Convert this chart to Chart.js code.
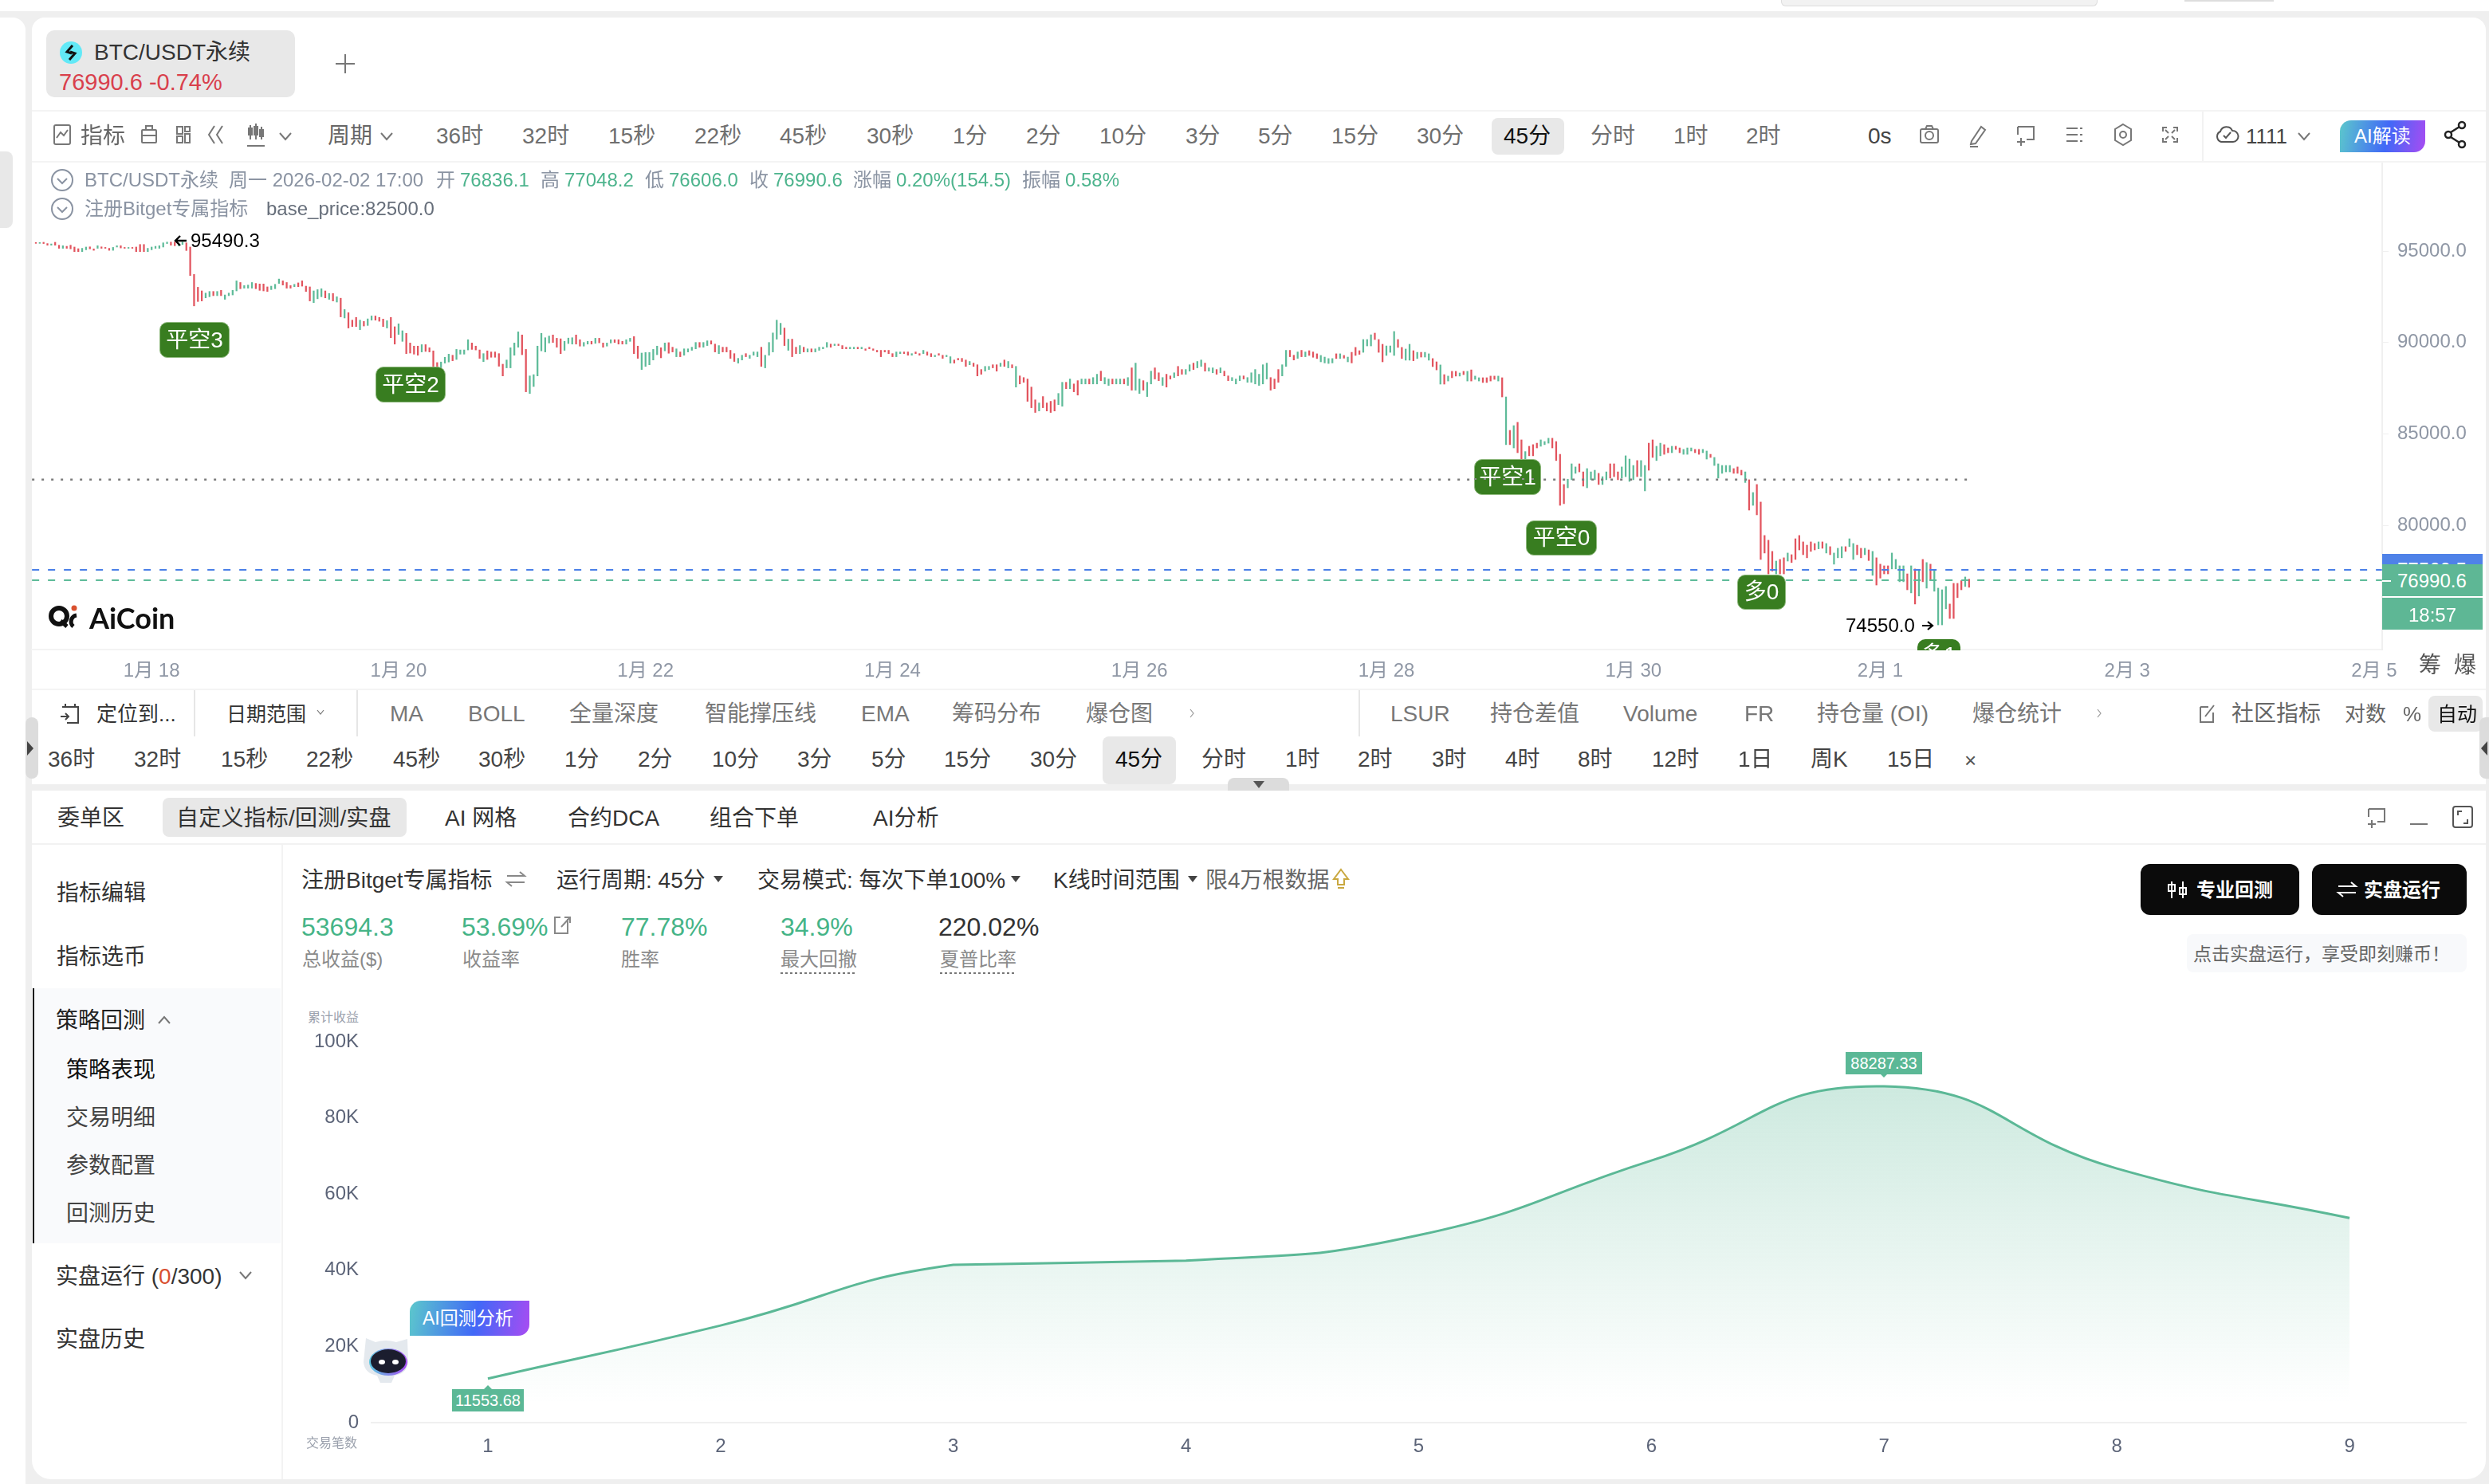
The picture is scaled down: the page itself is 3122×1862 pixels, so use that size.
<!DOCTYPE html>
<html lang="zh"><head><meta charset="utf-8"><title>BTC/USDT</title>
<script src="https://cdn.jsdelivr.net/npm/chart.js@4/dist/chart.umd.js"></script>
<style>
html,body{margin:0;padding:0;background:#efefef;width:3122px;height:1862px;overflow:hidden;font-family:"Liberation Sans","Noto Sans CJK SC",sans-serif}
.b{position:absolute;box-sizing:border-box}
.t{position:absolute;white-space:nowrap;line-height:1;transform:translateY(-50%);z-index:5}
canvas{position:absolute;z-index:2;display:block}
svg{position:absolute;z-index:5;overflow:visible}
</style></head><body>
<canvas id="kline" width="3122" height="662" style="left:0;top:204px;width:3122px;height:662px"></canvas>
<canvas id="equity" width="2764" height="566" style="left:354px;top:1290px;width:2764px;height:566px"></canvas>
<script>
// ---- K-line values ----
const candleHigh=[
95470,95470,95480,95410,95390,95480,95320,95290,95260,95320,
95220,95130,95150,95220,95230,95120,95290,95230,95200,95150,
95200,95290,95290,95200,95200,95200,95220,95360,95360,95150,
95220,95260,95290,95450,95490,95490,95490.3,95450,95490,95450,
95220,93720,93020,92820,92700,92790,92790,92790,92850,92600,
92700,92850,93370,93280,93110,93140,93280,93230,93200,93200,
93040,93080,93180,93470,93370,93280,93110,93180,93260,93370,
93080,93040,92820,92890,92940,92820,92680,92680,92500,92420,
91800,91630,91220,91370,91220,91150,91290,91450,91450,91370,
91280,91190,91370,90860,91020,90640,90500,89970,89800,89800,
89880,89880,89710,89540,88900,88930,89190,89360,89300,89620,
89590,89590,90150,89970,89800,89590,89390,89540,89480,89480,
89390,88810,89040,89710,89970,90580,90410,89620,88170,88240,
89800,90500,90260,90350,90410,90230,90200,90060,90240,90260,
90410,90150,90000,90060,90060,90230,90230,89970,89970,90150,
90150,90150,90060,90150,90230,90320,89800,89420,89450,89450,
89620,89800,89710,89970,
89990,89740,89650,89480,89650,89650,89740,90000,90000,90000,
90090,90090,89910,89830,89740,89740,89570,89390,89130,89300,
89390,89300,89480,89480,89740,89300,90000,90520,91220,91050,
90790,90180,90180,89740,89830,89740,89650,89650,89650,89740,
89740,90000,89910,89910,89910,89830,89740,89740,89740,89740,
89740,89650,89740,89650,89570,89570,89570,89570,89390,89480,
89480,89480,89480,89390,89480,89390,89570,89480,89390,89300,
89390,89300,89300,89220,89040,89130,89130,89040,88960,88870,
88780,88520,88690,88690,88780,88780,88870,89040,88960,88780,
88690,88170,88080,88000,87560,86860,86690,87040,86690,86780,
86860,87210,87820,87820,88000,87730,87910,88000,88000,88000,
88080,88260,88430,88080,88000,88000,88000,88000,88000,88080,
88610,88870,88000,87910,87820,88430,88610,88340,88080,88260,
88170,88340,88690,88520,88520,88780,88870,88960,89040,88870,
88610,88610,88520,88610,88430,88170,88080,88000,88170,88170,
88080,88340,88520,88260,88780,88870,88080,88000,88520,88780,
89570,89570,89300,89480,89570,89480,
89550,89480,89380,89290,89200,89120,89120,89380,89380,89290,
89200,89460,89730,89550,90160,90160,90420,90510,90160,89900,
89810,89810,90600,90160,89730,89640,89900,89550,89460,89460,
89460,89380,89120,88940,88770,88240,88160,88420,88420,88330,
88420,88420,88500,88160,88070,88070,88070,88160,88160,88160,
88070,87020,85190,85450,85630,84670,84030,84320,84410,84490,
84670,84580,84760,84760,84580,83880,82230,82520,83360,83190,
83360,82920,83100,82920,83010,82840,82660,82920,83360,83360,
82920,83190,83800,83620,83270,83540,83540,83270,84490,84670,
84320,84490,84410,84230,84320,84320,84230,84150,84230,84230,
84150,84150,84150,84060,83880,83710,83360,83270,83270,83270,
83100,83190,83010,82920,82490,81790,82230,81270,79440,79180,
78570,78040,78130,78220,78480,78390,79260,79440,79090,78910,
79090,79000,79090,79090,79000,78830,78480,78740,78830,78830,
79260,79000,78910,78740,78740,78650,78570,78220,77870,77780,
77780,78480,78130,77780,77780,77340,77780,77610,77520,78130,
77960,77870,77520,76560,76470,76650,75690,76820,76820,76970,
77170,77048.2];
const candleLow=[
95420,95420,95410,95320,95320,95320,95150,95150,95150,95120,
94970,94970,94970,95070,95120,95040,95150,95150,95150,95040,
95040,95220,95170,95150,95150,95150,94970,94970,94970,94970,
95070,95150,95150,95220,95410,95320,95290,95290,95360,95030,
93660,92000,92240,92270,92440,92500,92560,92560,92560,92360,
92560,92600,92820,92940,92970,92970,92970,92940,92850,92820,
92790,92890,92940,93230,93140,92970,92970,93050,93050,93080,
92790,92270,92180,92390,92500,92440,92360,92270,92210,91400,
91340,90790,90870,90870,90700,90900,90930,91220,91220,91160,
90870,90790,90260,89910,90440,90060,89390,89420,89360,89300,
89480,89510,89480,88610,88610,88610,88870,88930,89000,89070,
89360,89360,89590,89620,89590,89130,88950,89070,89190,89190,
88700,88170,88610,88610,89300,89740,89330,87300,87210,87590,
88170,89540,89480,89970,90000,89740,89390,89570,89940,89910,
89910,89800,89800,89910,89910,89950,89980,89740,89800,89970,
90000,89910,89910,89910,90060,89390,89130,88520,88690,88780,
89040,89330,89160,89540,
89410,89480,89220,89220,89300,89480,89570,89650,89740,89740,
89830,89910,89480,89390,89480,89480,89130,88960,88870,89040,
89220,89130,89300,89220,88690,88610,89300,89480,90180,90440,
89830,89570,89220,89390,89390,89480,89480,89480,89480,89570,
89650,89740,89740,89830,89830,89650,89650,89650,89650,89650,
89650,89570,89650,89570,89480,89220,89480,89390,89220,89220,
89390,89390,89300,89300,89390,89300,89390,89300,89220,89220,
89300,89130,89220,88870,88870,89040,88960,88690,88780,88690,
88170,88260,88430,88520,88610,88430,88690,88690,88610,88610,
87560,87730,87820,86780,86430,86170,86250,86430,86250,86170,
86250,86600,86510,87470,87470,87300,87120,87730,87730,87730,
87730,87730,87910,87730,87650,87730,87730,87730,87730,87650,
87390,87390,87210,87390,87040,87730,88000,87910,87650,87560,
88000,88080,88170,88260,88260,88430,88520,88610,88690,88430,
88430,88340,88260,88340,88170,87910,87910,87730,87910,88000,
87820,87820,87730,87650,87730,88000,87390,87470,87820,88170,
88690,89220,89040,89130,89220,89220,
89290,89190,89120,88940,88880,88850,88880,89120,89120,89140,
88940,88880,89290,89350,89460,89810,89810,90160,89460,88940,
89290,89460,89290,89730,89120,89030,89030,89000,89120,89200,
89200,89030,88680,88500,87720,87720,87890,88070,88160,88160,
88240,87890,87890,87980,87890,87810,87810,87890,87980,87890,
87020,84410,84410,84230,83970,83590,83590,83800,83800,84230,
84320,84410,84490,84230,83540,81090,81180,82050,82490,82840,
82920,82140,82050,82490,82490,82230,82230,82490,82580,82660,
82490,82580,82660,82400,82490,82660,82660,81880,83010,83710,
83540,83800,83880,83970,83970,84150,83970,83880,83880,84060,
83970,83880,83970,83620,83710,83270,82580,82840,82920,82920,
82840,82840,82750,82340,80830,81090,80570,78130,78480,77340,
77490,77340,77340,77340,78040,77960,78130,78650,78390,78220,
78570,78650,78710,78740,78480,78390,77870,78220,78220,78570,
78830,78130,78390,78220,78390,78070,77260,76730,77110,77340,
77340,77610,77610,76910,76910,76470,76300,75690,76130,76910,
76560,77000,76390,74550,74550,75430,74900,74900,76040,76470,
76650,76606];
const candleUp=[
0,1,0,0,1,0,0,1,0,0, 0,0,1,1,0,0,1,0,0,0, 1,1,0,0,1,0,0,0,0,1, 1,1,1,1,1,0,0,1,1,0,
0,0,0,0,1,1,0,1,0,1, 1,1,1,0,1,1,1,0,0,0, 0,1,1,1,0,0,0,1,0,0, 0,0,1,1,1,0,1,0,1,0,
1,0,0,0,1,0,1,1,0,0, 0,1,0,0,1,1,0,0,0,0, 1,0,0,0,0,1,1,1,0,1, 1,1,1,0,0,0,1,0,0,0,
0,0,1,1,1,1,0,0,1,1, 1,1,1,1,0,0,0,1,1,1, 0,0,1,1,0,1,0,0,1,1, 0,0,0,1,1,0,0,1,1,1,
1,1,0,1,
0,0,1,0,1,1,1,1,0,1, 1,0,0,1,0,0,0,0,1,1, 0,1,1,1,0,1,1,1,1,1, 0,1,0,0,1,0,1,0,1,1,
1,1,0,1,0,0,0,1,1,0, 1,0,0,0,0,0,0,0,0,1, 1,0,0,1,0,0,1,0,0,1, 0,0,1,1,0,0,0,0,1,0,
0,0,1,1,0,0,1,0,1,0, 1,0,0,0,0,0,1,0,0,0, 0,1,1,0,1,0,0,1,1,0, 1,1,0,1,1,0,1,1,0,1,
0,1,1,0,1,1,0,0,1,0, 0,1,0,0,1,1,0,1,1,0, 1,1,0,1,0,0,1,1,1,0, 1,1,1,1,1,1,0,0,0,1,
1,0,0,1,0,1,0,0,0,1, 1,1,1,0,1,0,1,0,0,0,
1,1,1,0,0,0,1,1,1,0, 0,1,1,0,1,0,1,1,0,0, 1,0,1,0,0,1,0,1,0,1, 1,0,0,0,0,1,0,1,0,1,
0,0,1,0,0,0,1,1,1,0, 0,0,0,1,1,1,0,0,1,1, 1,0,1,1,0,0,0,1,1,1, 1,0,1,1,0,0,1,1,0,0,
1,0,0,1,1,1,0,0,1,1, 0,1,1,1,1,1,0,0,0,1, 0,1,0,0,0,0,0,1,0,0, 1,0,0,0,0,0,0,0,1,0,
1,0,1,1,1,0,1,1,0,0, 1,0,1,0,0,0,0,1,1,1, 1,0,1,0,1,0,1,0,1,1, 1,1,0,0,0,0,1,0,1,1,
0,0,0,0,1,0,0,1,0,1, 1,1];
const basePriceLine=82500, bluePriceLine=77560.5, lastPrice=76990.6;
const yTickValues=[95000,90000,85000,80000];
const dateTickIndex=[30,94,158,222,286,350,414,478,542,606];
const dateTickLabels=['1月 18','1月 20','1月 22','1月 24','1月 26','1月 28','1月 30','2月 1','2月 3','2月 5'];
// ---- Equity curve ----
const tradeCounts=['1','2','3','4','5','6','7','8','9'];
const equityValues=[11553.68,25500,41400,42500,49200,68800,88287.33,66700,53694.3];

const FONT='"Liberation Sans","Noto Sans CJK SC",sans-serif';
Chart.defaults.font.family=FONT;
Chart.defaults.animation=false;
const n=candleHigh.length;
const GREEN='#5ebb99', RED='#e2545e';
const ohlc=candleHigh.map((h,i)=>({x:i,y:[candleLow[i],h]}));
const noPad=s=>{s.paddingTop=0;s.paddingBottom=0;};

new Chart(document.getElementById('kline'),{
 type:'bar',
 data:{datasets:[
  {type:'line',data:[{x:-1,y:basePriceLine},{x:n-0.4,y:basePriceLine}],borderColor:'#7c7c7c',borderWidth:2.5,borderDash:[3,9],pointRadius:0,order:1},
  {type:'line',data:[{x:-1,y:bluePriceLine},{x:608,y:bluePriceLine}],borderColor:'#4a80e8',borderWidth:2,borderDash:[9,11],pointRadius:0,order:1},
  {type:'line',data:[{x:-1,y:lastPrice},{x:608,y:lastPrice}],borderColor:GREEN,borderWidth:2,borderDash:[9,11],pointRadius:0,order:1},
  {type:'bar',data:ohlc,barThickness:1.6,backgroundColor:candleUp.map(u=>u?GREEN:RED),borderWidth:0,order:2,grouped:false}
 ]},
 options:{responsive:false,devicePixelRatio:1,animation:false,
  layout:{padding:{left:40,right:0,top:0,bottom:0}},
  plugins:{legend:{display:false},tooltip:{enabled:false}},
  scales:{
   x:{type:'linear',offset:false,min:-1.03,max:608.06,
    grid:{display:false,offset:false,drawTicks:false},border:{display:true,color:'#f3f3f3',width:2},
    afterBuildTicks:s=>{s.ticks=dateTickIndex.map(value=>({value}))},
    afterFit:s=>{s.height=51;s.paddingLeft=0;s.paddingRight=0;},
    ticks:{autoSkip:false,maxRotation:0,minRotation:0,padding:13,color:'#8f97a5',font:{size:24},callback:(v,i)=>dateTickLabels[i]}},
   y:{type:'linear',position:'right',beginAtZero:false,min:73200,max:99840,
    grid:{drawOnChartArea:false,drawTicks:true,tickLength:8,tickColor:'#f0f0f0'},border:{display:true,color:'#f0f0f0',width:2},
    afterBuildTicks:s=>{s.ticks=yTickValues.map(value=>({value}))},
    afterFit:s=>{s.width=134;noPad(s);},
    ticks:{padding:11,color:'#8f97a5',font:{size:24},callback:v=>v.toFixed(1)}}
  }}
});

// keeps the plateau between trades 3 and 4 flat instead of overshooting
const flatShoulder={id:'flatShoulder',beforeDatasetsDraw(chart){
 const pts=chart.getDatasetMeta(0).data,a=pts[2],b=pts[3],dx=b.x-a.x,dy=b.y-a.y;
 a.cp2x=a.x+dx/3;a.cp2y=a.y+dy/3;b.cp1x=b.x-dx/3;b.cp1y=b.y-dy/3;
}};
new Chart(document.getElementById('equity'),{
 type:'line',
 plugins:[flatShoulder],
 data:{labels:tradeCounts,datasets:[{data:equityValues,borderColor:'#5bb896',borderWidth:3,pointRadius:0,tension:0.5,fill:'origin',
  backgroundColor:c=>{const ch=c.chart,a=ch.chartArea;if(!a)return 'transparent';
   const g=ch.ctx.createLinearGradient(0,ch.scales.y.getPixelForValue(88287),0,a.bottom-24);
   g.addColorStop(0,'rgba(91,184,150,.3)');g.addColorStop(1,'rgba(91,184,150,0)');return g;}}]},
 options:{responsive:false,devicePixelRatio:1,animation:false,
  layout:{padding:{left:0,right:25,top:17,bottom:0}},
  plugins:{legend:{display:false},tooltip:{enabled:false}},
  scales:{
   x:{type:'category',offset:true,grid:{display:false,drawTicks:false},border:{display:true,color:'#f0f0f0',width:2},
    afterFit:s=>{s.height=71;s.paddingLeft=0;s.paddingRight=0;},ticks:{padding:16,color:'#5c6478',font:{size:24},maxRotation:0}},
   y:{min:0,max:100000,grid:{display:false,drawTicks:false},border:{display:false},
    afterFit:s=>{s.width=112;noPad(s);},
    ticks:{stepSize:20000,padding:16,color:'#5c6478',font:{size:24},callback:v=>v===0?'0':(v/1000)+'K'}}
  }}
});

// ---- page chrome ----
const B=(x,y,w,h,bg,css='',z=1)=>{const d=document.createElement('div');d.className='b';d.style.cssText=`left:${x}px;top:${y}px;width:${w}px;height:${h}px;background:${bg};z-index:${z};${css}`;document.body.appendChild(d);return d;};
const T=(s,x,y,size,color,css='')=>{const d=document.createElement('div');d.className='t';d.textContent=s;d.style.cssText=`left:${x}px;top:${y}px;font-size:${size}px;color:${color};${css}`;document.body.appendChild(d);return d;};
const S=(x,y,w,h,inner,z=5)=>{const e=document.createElementNS('http://www.w3.org/2000/svg','svg');e.setAttribute('width',w);e.setAttribute('height',h);e.setAttribute('viewBox',`0 0 ${w} ${h}`);e.style.left=x+'px';e.style.top=y+'px';e.style.zIndex=z;e.innerHTML=inner;document.body.appendChild(e);};
const chev=(x,y,up=false,c='#777')=>S(x-8,y-6,16,12,`<polyline points="${up?'1,10 8,2 15,10':'1,2 8,10 15,2'}" fill="none" stroke="${c}" stroke-width="2"/>`);
const tri=(x,y)=>S(x-7,y-5,14,10,'<polygon points="1,1 13,1 7,9" fill="#444"/>');
const ic=(cx,cy,inner,c='#777',sw=2)=>S(cx-16,cy-16,32,32,`<g fill="none" stroke="${c}" stroke-width="${sw}">${inner}</g>`);

// panels
B(0,0,3122,14,'#fff');B(2234,0,397,8,'#f2f2f2','border:1px solid #ddd;border-top:0;border-radius:0 0 6px 6px');B(2740,0,112,2,'#ddd');
B(0,22,32,1840,'#fff','border-radius:0 16px 0 0');B(0,190,16,96,'#e8e8e8','border-radius:0 8px 8px 0',3);
B(40,22,3078,962,'#fff','border-radius:16px 16px 0 0');
B(40,992,3078,864,'#fff','border-radius:0 0 24px 24px');
B(40,138,3078,2,'#f4f4f4');B(40,202,3078,2,'#f4f4f4');
B(2762,140,2,62,'#f2f2f2');
B(40,864,3078,2,'#f4f4f4');
B(40,1058,3078,2,'#f2f2f2');
B(353,1060,2,796,'#f3f3f3');

// top tab
B(58,38,312,84,'#e8e8e8','border-radius:10px');
S(74,51,30,30,'<circle cx="15" cy="15" r="14" fill="#62e9f7"/><path d="M17 6 L10 14 L16 16 M13 24 L20 16 L14 14" fill="none" stroke="#111" stroke-width="3"/>');
T('BTC/USDT永续',118,66,28,'#333');
T('76990.6 -0.74%',74,103,29,'#d9404c');
S(421,68,24,24,'<path d="M12 0V24M0 12H24" stroke="#777" stroke-width="2"/>');

// toolbar row 1
ic(78,169,'<rect x="6" y="4" width="20" height="24" rx="2"/><polyline points="9,20 14,13 18,17 23,10"/>');
T('指标',101,171,28,'#666');
ic(187,169,'<rect x="7" y="10" width="18" height="16" rx="1"/><path d="M12 10V5H20V10M7 17H25"/>');
ic(230,169,'<rect x="8" y="6" width="7" height="9"/><rect x="18" y="6" width="6" height="6"/><rect x="18" y="15" width="6" height="11"/><rect x="8" y="18" width="7" height="8"/>');
ic(271,169,'<polyline points="14,5 7,16 14,27"/><polyline points="24,5 17,16 24,27"/>');
ic(320,169,'<path d="M6 30H28M10 4V22M17 2V22M24 6V22"/><rect x="8" y="8" width="4" height="8" fill="#777"/><rect x="15" y="6" width="4" height="10"/><rect x="22" y="10" width="4" height="8"/>');
chev(358,171);
T('周期',411,171,28,'#666');chev(485,171);
const periodRow1=[['36时',547],['32时',655],['15秒',763],['22秒',871],['45秒',978],['30秒',1087],['1分',1195],['2分',1287],['10分',1379],['3分',1487],['5分',1578],['15分',1670],['30分',1777],['分时',1995],['1时',2099],['2时',2190]];
periodRow1.forEach(([s,x])=>T(s,x,171,28,'#6f6f6f'));
B(1871,148,91,46,'#e8e8e8','border-radius:8px',3);T('45分',1886,171,28,'#111');
T('0s',2343,171,28,'#444');
ic(2420,169,'<rect x="5" y="9" width="22" height="17" rx="2"/><circle cx="16" cy="17" r="5"/><path d="M11 9L13 5H19L21 9"/>');
ic(2481,169,'<path d="M8 24L20 6L25 10L13 27L7 28ZM6 31H16"/>');
ic(2541,169,'<path d="M6 6H26V22H17M6 6V16M10 20V30M5 25H15"/>');
ic(2602,169,'<path d="M6 8H26M6 16H26M6 24H26" stroke-dasharray="14 3"/>');
ic(2663,169,'<polygon points="16,3 26,9 26,23 16,29 6,23 6,9"/><circle cx="16" cy="16" r="4"/>');
ic(2722,169,'<path d="M7 12V7H12M20 7H25V12M25 20V25H20M12 25H7V20M10 10L14 14M22 10L18 14M10 22L14 18M22 22L18 18"/>');
ic(2793,169,'<path d="M9 25A7 7 0 0 1 8 12A8 8 0 0 1 23 11A7 7 0 0 1 24 25Z"/><polyline points="12,17 15,20 21,13"/>','#555');
T('1111',2817,171,26,'#444');chev(2890,171);
const AIGRAD='linear-gradient(100deg,#5cc8cc 0%,#4168f7 55%,#a84cf2 100%)';
B(2935,151,107,40,AIGRAD,'border-radius:14px 0 14px 0',3);T('AI解读',2953,171,24,'#fff');
S(3065,152,32,34,'<g fill="none" stroke="#222" stroke-width="2.5"><circle cx="6" cy="17" r="4"/><circle cx="23" cy="5" r="4"/><circle cx="23" cy="29" r="4"/><path d="M9 14L20 7M9 20L20 27"/></g>');

// legend lines
const legendSegments=[['BTC/USDT永续',106,0],['周一 2026-02-02 17:00',287,0],['开',547,0],['76836.1',577,1],['高',678,0],['77048.2',708,1],['低',809,0],['76606.0',839,1],['收',940,0],['76990.6',970,1],['涨幅',1070,0],['0.20%(154.5)',1124,1],['振幅',1282,0],['0.58%',1336,1]];
legendSegments.forEach(([s,x,g])=>T(s,x,226,24,g?'#4db48d':'#8a93a2'));
[226,262].forEach(y=>ic(78,y,'<circle cx="16" cy="16" r="13"/><polyline points="10,14 16,20 22,14"/>','#8a93a2'));
T('注册Bitget专属指标',106,262,24,'#8a93a2');T('base_price:82500.0',334,262,24,'#666e7a');

// chart notes
S(218,294,16,16,'<path d="M16 8H3M8 2L2 8L8 14" fill="none" stroke="#000" stroke-width="2.4"/>');T('95490.3',239,302,24,'#000');
T('74550.0',2315,785,24,'#000');S(2411,779,14,12,'<path d="M0 6H12M7 1L13 6L7 11" fill="none" stroke="#000" stroke-width="2.2"/>');
const tagG='#387d20';
const tag=(s,x,y,w,h)=>{B(x,y,w,h,tagG,'border-radius:10px;border:1px solid #8db87c',3);T(s,x,y+h/2,28,'#fff',`width:${w}px;text-align:center`);};
tag('平空3',200,404,88,45);tag('平空2',471,460,88,45);tag('平空1',1849,576,84,45);tag('平空0',1914,653,89,44);tag('多0',2179,721,61,44);
// tag that runs off the bottom of the plot
{const d=B(2405,802,54,14,tagG,'border-radius:10px 10px 0 0;overflow:hidden',3);const i=document.createElement('div');i.textContent='多1';i.style.cssText='position:absolute;left:0;top:6px;width:54px;text-align:center;color:#fff;font-size:28px;line-height:1';d.appendChild(i);}
// dotted line stays visible over the 平空1 tag
B(1849,600,84,2,'repeating-linear-gradient(90deg,#8a8a8a 0 3px,transparent 3px 12px)','',4);

// price boxes
B(2988,695,126,40,'#4f82e8','',3);T('77560.5',3007,715,24,'#fff','z-index:3');
B(2988,708,126,40,'#5eb795','',4);T('76990.6',3007,729,24,'#fff');B(2988,728,11,2,'#fff','',5);
B(2988,750,126,40,'#5eb795','',4);T('18:57',3021,772,24,'#fff');

// logo
S(60,759,44,32,'<circle cx="14" cy="14" r="10" fill="none" stroke="#111" stroke-width="6"/><path d="M16 20L24 27" stroke="#111" stroke-width="5"/><path d="M36 13A8 8 0 0 0 32 27" fill="none" stroke="#111" stroke-width="5"/><circle cx="33" cy="4" r="3.5" fill="#d9502f"/>');
T('AiCoin',112,775,36,'#111','font-weight:700;font-family:Lato,"Open Sans",sans-serif');
T('筹',3034,835,28,'#555');T('爆',3078,835,28,'#555');

// indicator row
ic(88,895,'<path d="M6 8H26V28H12M10 4V8M22 4V8M4 20H14M10 16L14 20L10 24"/>','#444');
T('定位到...',121,896,26,'#333');B(243,866,2,58,'#e6e6e6');T('日期范围',284,896,25,'#333');
S(398,890,8,8,'<polyline points="0,1 4,6 8,1" fill="none" stroke="#777" stroke-width="1.2"/>');B(447,866,2,58,'#e6e6e6');
const indicatorRow=[['MA',489],['BOLL',587],['全量深度',714],['智能撑压线',884],['EMA',1080],['筹码分布',1194],['爆仓图',1362],['LSUR',1744],['持仓差值',1869],['Volume',2036],['FR',2188],['持仓量 (OI)',2279],['爆仓统计',2474]];
indicatorRow.forEach(([s,x])=>T(s,x,896,28,'#777'));
[1493,2631].forEach(x=>S(x,890,5,10,'<polyline points="0,0 4,5 0,10" fill="none" stroke="#999" stroke-width="1.2"/>'));
B(1704,866,2,58,'#e6e6e6');
ic(2768,895,'<path d="M8 8H18M8 8V27H24V15M14 20L25 6"/>');
T('社区指标',2799,896,28,'#666');T('对数',2941,896,26,'#666');T('%',3014,896,26,'#666');
B(3046,873,68,45,'#e8e8e8','border-radius:8px',3);T('自动',3057,896,25,'#111');

// period row 2
const periodRow2=[['36时',60],['32时',168],['15秒',277],['22秒',384],['45秒',493],['30秒',600],['1分',708],['2分',800],['10分',893],['3分',1000],['5分',1093],['15分',1184],['30分',1292],['分时',1507],['1时',1612],['2时',1703],['3时',1796],['4时',1888],['8时',1979],['12时',2072],['1日',2180],['周K',2271],['15日',2367]];
periodRow2.forEach(([s,x])=>T(s,x,953,28,'#444'));
B(1383,924,92,60,'#e8e8e8','border-radius:8px',3);T('45分',1399,953,28,'#111');
T('×',2464,954,26,'#555');

// handles
B(32,900,16,77,'#dcdcdc','border-radius:8px',3);S(34,930,8,18,'<polygon points="0,0 8,9 0,18" fill="#444"/>');
B(3110,900,12,77,'#dcdcdc','border-radius:8px 0 0 8px',3);S(3112,930,8,18,'<polygon points="8,0 0,9 8,18" fill="#444"/>');
B(1540,976,77,16,'#dcdcdc','border-radius:8px 8px 0 0',3);S(1572,980,14,9,'<polygon points="0,0 14,0 7,9" fill="#555"/>');

// lower tabs
T('委单区',72,1027,28,'#333');B(204,1001,306,49,'#e8e8e8','border-radius:8px',3);T('自定义指标/回测/实盘',221,1027,28,'#333','letter-spacing:.2px');
[['AI 网格',558],['合约DCA',712],['组合下单',890],['AI分析',1095]].forEach(([s,x])=>T(s,x,1027,28,'#333'));
ic(2981,1025,'<path d="M6 6H26V22H17M6 6V16M10 20V30M5 25H15"/>');B(3023,1033,22,2,'#777','',5);
ic(3088,1025,'<rect x="5" y="3" width="24" height="26" rx="3"/><path d="M11 14V9H16M23 19V24H18"/>','#555');

// sidebar
T('指标编辑',71,1121,28,'#333');T('指标选币',71,1201,28,'#333');
B(41,1240,311,320,'#f9fafc');B(41,1240,2,320,'#111','',3);
T('策略回测',70,1281,28,'#222');chev(206,1280,true);
T('策略表现',83,1343,28,'#111');T('交易明细',83,1403,28,'#444');T('参数配置',83,1463,28,'#444');T('回测历史',83,1523,28,'#444');
const live=T('实盘运行 (',70,1602,28,'#333');live.innerHTML='实盘运行 (<span style="color:#d9502f">0</span>/300)';chev(308,1600);
T('实盘历史',70,1681,28,'#333');

// strategy header
T('注册Bitget专属指标',378,1105,28,'#333');
ic(647,1103,'<path d="M5 12H27L21 7M27 20H5L11 25"/>','#888');
T('运行周期: 45分',698,1105,28,'#333');tri(901,1103);
T('交易模式: 每次下单100%',950,1105,28,'#333');tri(1274,1103);
T('K线时间范围',1321,1105,28,'#333');tri(1496,1103);
T('限4万根数据',1512,1105,28,'#666');
S(1670,1089,24,28,'<path d="M12 2L21 14H16V21H8V14H3ZM8 25H16" fill="none" stroke="#c9a840" stroke-width="2"/>');

// metric row
const metricValues=[['53694.3',378,'#45b487'],['53.69%',579,'#45b487'],['77.78%',779,'#45b487'],['34.9%',979,'#45b487'],['220.02%',1177,'#333']];
metricValues.forEach(([s,x,c])=>T(s,x,1163,32,c));
ic(706,1161,'<path d="M22 8V26H6V6H13M14 18L25 6M18 6H25V13"/>','#888');
const metricLabels=[['总收益($)',379],['收益率',580],['胜率',779],['最大回撤',979],['夏普比率',1179]];
metricLabels.forEach(([s,x])=>T(s,x,1204,24,'#8a8a8a'));
[979,1179].forEach(x=>B(x,1220,96,2,'repeating-linear-gradient(90deg,#777 0 3px,transparent 3px 6px)','',5));

// buttons
B(2685,1084,199,64,'#0b0b0b','border-radius:12px',3);B(2900,1084,194,64,'#0b0b0b','border-radius:12px',3);
T('专业回测',2755,1117,24,'#fff','font-weight:700');T('实盘运行',2965,1117,24,'#fff','font-weight:700');
ic(2731,1116,'<path d="M9 6V27M23 6V27"/><rect x="5" y="10" width="8" height="8"/><rect x="19" y="14" width="8" height="8"/>','#fff');
ic(2944,1116,'<path d="M5 12H27L21 7M27 20H5L11 25"/>','#fff');
B(2743,1172,351,48,'#f8f9fb','border-radius:8px',3);T('点击实盘运行，享受即刻赚币！',2751,1197,23,'#666');

// equity notes
T('累计收益',386,1277,16,'#9aa0ac');T('交易笔数',384,1811,16,'#9aa0ac');
B(567,1743,90,28,'#5bb896','',3);T('11553.68',567,1757,20,'#fff','width:90px;text-align:center');S(606,1738,12,6,'<polygon points="6,0 0,6 12,6" fill="#5bb896"/>');
B(2315,1320,96,28,'#5bb896','',3);T('88287.33',2315,1334,20,'#fff','width:96px;text-align:center');S(2359,1348,8,4,'<polygon points="0,0 8,0 4,4" fill="#5bb896"/>');
B(514,1632,150,44,AIGRAD,'border-radius:14px 0 14px 0',3);T('AI回测分析',530,1654,23,'#fff');
S(455,1679,58,60,'<defs><linearGradient id="r" x1="0" x2="1"><stop offset="0" stop-color="#5cc8e0"/><stop offset="1" stop-color="#a84cf2"/></linearGradient></defs><path d="M4 0L16 5Q29 1 42 5L56 1L57 30Q56 44 40 47L36 56H22L18 47Q2 44 1 30Z" fill="#e4e9ee"/><ellipse cx="32" cy="30" rx="24" ry="17" fill="url(#r)"/><ellipse cx="32" cy="29" rx="22" ry="15" fill="#1b1d2e"/><ellipse cx="24" cy="30" rx="4" ry="3" fill="#fff"/><ellipse cx="41" cy="30" rx="4" ry="3" fill="#fff"/>');
</script>
</body></html>
